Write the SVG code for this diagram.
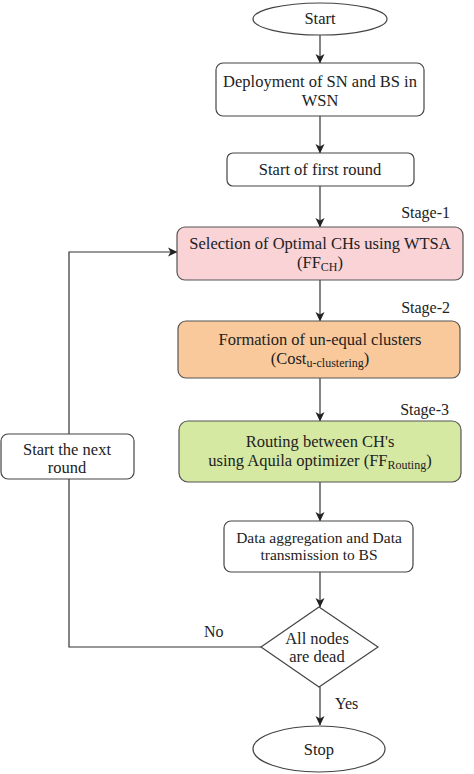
<svg xmlns="http://www.w3.org/2000/svg" width="474" height="774" viewBox="0 0 474 774">
<style>
text{fill:#222;}
.t{font-size:16.5px;text-anchor:middle;}
.s{font-size:16px;}
.st{font-size:16px;text-anchor:end;}
.n{fill:#fff;stroke:#444;stroke-width:1.2;}
.c{fill:none;stroke:#333;stroke-width:1.2;}
</style>
<defs>
<marker id="ah" markerWidth="10" markerHeight="10" refX="9" refY="5" orient="auto" markerUnits="userSpaceOnUse">
<path d="M0,0.5 L9.5,5 L0,9.5 L2.5,5 Z" fill="#222"/>
</marker>
</defs>
<rect width="474" height="774" fill="#fff"/>
<g font-family="Liberation Serif, DejaVu Serif, Times New Roman, serif">
<g id="connectors">
<line class="c" x1="320" y1="35" x2="320" y2="63" marker-end="url(#ah)"/>
<line class="c" x1="320" y1="116" x2="320" y2="153" marker-end="url(#ah)"/>
<line class="c" x1="320" y1="186" x2="320" y2="227" marker-end="url(#ah)"/>
<line class="c" x1="320" y1="280" x2="320" y2="321" marker-end="url(#ah)"/>
<line class="c" x1="320" y1="378" x2="320" y2="421" marker-end="url(#ah)"/>
<line class="c" x1="320" y1="482" x2="320" y2="521" marker-end="url(#ah)"/>
<line class="c" x1="320" y1="572" x2="320" y2="607" marker-end="url(#ah)"/>
<line class="c" x1="320" y1="687" x2="320" y2="725" marker-end="url(#ah)"/>
<polyline class="c" points="261,647 69,647 69,252 177,252" marker-end="url(#ah)"/>
<text class="s" x="204" y="637">No</text>
<text class="s" x="335" y="709">Yes</text>
</g>
<g id="start">
<ellipse class="n" cx="320" cy="19" rx="67" ry="16"/>
<text class="t" x="320" y="24">Start</text>
</g>
<g id="deploy">
<rect class="n" x="216" y="63" width="208" height="53" rx="7"/>
<text class="t" x="320" y="87">Deployment of SN and BS in</text>
<text class="t" x="320" y="106">WSN</text>
</g>
<g id="firstround">
<rect class="n" x="227" y="153" width="187" height="33" rx="6"/>
<text class="t" x="320" y="175">Start of first round</text>
</g>
<g id="stage1">
<text class="st" x="450" y="218">Stage-1</text>
<rect x="177" y="227" width="286" height="53" rx="8" fill="#f9d3d6" stroke="#555" stroke-width="1.2"/>
<text class="t" x="320" y="249">Selection of Optimal CHs using WTSA</text>
<text class="t" x="320" y="268">(FF<tspan font-size="12" dy="3">CH</tspan><tspan dy="-3">)</tspan></text>
</g>
<g id="stage2">
<text class="st" x="450" y="313">Stage-2</text>
<rect x="178" y="321" width="282" height="57" rx="8" fill="#f9c99c" stroke="#555" stroke-width="1.2"/>
<text class="t" x="320" y="345">Formation of un-equal clusters</text>
<text class="t" x="320" y="364">(Cost<tspan font-size="12" dy="3">u-clustering</tspan><tspan dy="-3">)</tspan></text>
</g>
<g id="stage3">
<text class="st" x="449" y="415">Stage-3</text>
<rect x="179" y="421" width="282" height="61" rx="9" fill="#d6e9a2" stroke="#555" stroke-width="1.2"/>
<text class="t" x="320" y="447">Routing between CH's</text>
<text class="t" x="320" y="466">using Aquila optimizer (FF<tspan font-size="12" dy="3">Routing</tspan><tspan dy="-3">)</tspan></text>
</g>
<g id="aggregation">
<rect class="n" x="224" y="521" width="189" height="51" rx="7"/>
<text class="t" x="319" y="543" style="font-size:15.5px">Data aggregation and Data</text>
<text class="t" x="319" y="560" style="font-size:15.5px">transmission to BS</text>
</g>
<g id="nextround">
<rect class="n" x="1" y="434" width="133" height="45" rx="7"/>
<text class="t" x="67" y="455">Start the next</text>
<text class="t" x="67" y="473">round</text>
</g>
<g id="decision">
<polygon class="n" points="319,607 378,647 319,687 261,647"/>
<text class="t" x="317" y="644">All nodes</text>
<text class="t" x="317" y="662">are dead</text>
</g>
<g id="stop">
<ellipse class="n" cx="319" cy="749" rx="66" ry="23"/>
<text class="t" x="319" y="755">Stop</text>
</g>
</g>
</svg>
